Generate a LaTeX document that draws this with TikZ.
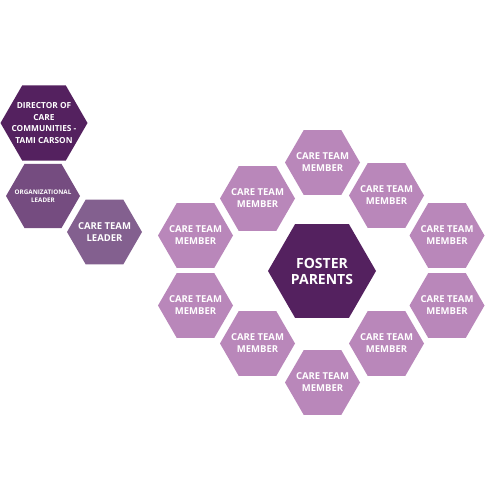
\documentclass[tikz,border=0pt]{standalone}
\usepackage{fontspec}
\setmainfont{Open Sans}
\usepackage{tikz}
\usetikzlibrary{shapes.geometric}

\definecolor{darkplum}{HTML}{54215F}
\definecolor{midplum}{HTML}{754C80}
\definecolor{softplum}{HTML}{83608F}
\definecolor{lightplum}{HTML}{B987BA}

\begin{document}
\begin{tikzpicture}[x=1pt,y=-1pt,
					hex node/.style={regular polygon,regular polygon sides=6,inner sep=-6pt,
						draw=none,text=white,align=center,font=\bfseries},
					member node/.style={hex node,fill=lightplum,minimum size=75pt,font=\bfseries\fontsize{9.5}{12}\selectfont},
					foster node/.style={hex node,fill=darkplum,minimum size=108pt,font=\bfseries\fontsize{14}{16}\selectfont}];
					
					\useasboundingbox (0,0) rectangle (500,500);
					
					% left column
					\node[hex node,fill=darkplum,minimum size=87pt,font=\bfseries\fontsize{8.3}{11.7}\selectfont] (d) at (44,123) {DIRECTOR OF\\CARE\\COMMUNITIES -\\TAMI CARSON};
					\node[hex node,fill=midplum,minimum size=74pt,font=\bfseries\fontsize{6.3}{8.3}\selectfont] (o) at (43,196) {ORGANIZATIONAL\\LEADER};
					\node[hex node,fill=softplum,minimum size=75pt,font=\bfseries\fontsize{9.5}{11.5}\selectfont] (l) at (104.5,232) {CARE TEAM\\LEADER};
					
					% centre and ring
					\node[foster node] (f) at (322,271) {FOSTER\\PARENTS};
					
					\foreach \n/\x/\y in {1/322.5/162.5, 2/386.5/195.5, 3/447/235.5, 4/447/305.5,
						5/386.5/343.5, 6/322.5/382.5, 7/257.5/343.5, 8/195.5/305.5, 9/195.5/235.5, 10/257.5/198.5}
						\node[member node] (m\n) at (\x,\y) {CARE TEAM\\MEMBER};
					
					\end{tikzpicture}
\end{document}
